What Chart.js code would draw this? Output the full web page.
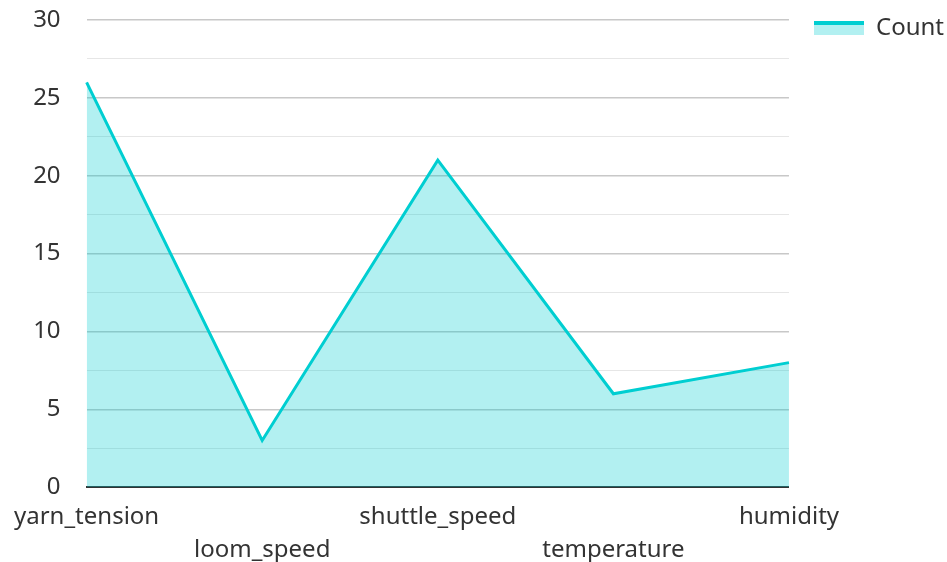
<!DOCTYPE html>
<html>
<head>
  <title>Count by parameter</title>
  <style>
    html, body { margin: 0; padding: 0; background: #fff; }
    .chart { width: 947px; height: 562px; position: relative; }
  </style>
  <script src="https://cdn.jsdelivr.net/npm/chart.js"></script>
</head>
<body>
  <div class="chart">
    <canvas id="countChart"></canvas>
  </div>
  <script>
    // chart data
    const categories = ['yarn_tension', 'loom_speed', 'shuttle_speed', 'temperature', 'humidity'];
    const countValues = [26, 3, 21, 6, 8];
    const yTicks = [0, 5, 10, 15, 20, 25, 30];

    const lineColor = '#00CED1';
    const fillColor = 'rgba(0, 206, 209, 0.3)';

    // legend swatch: light fill with a thick top line
    const swatch = document.createElement('canvas');
    swatch.width = 50;
    swatch.height = 14;
    const sctx = swatch.getContext('2d');
    sctx.fillStyle = fillColor;
    sctx.fillRect(0, 0, 50, 14);
    sctx.fillStyle = lineColor;
    sctx.fillRect(0, 0, 50, 4);

    const ctx = document.getElementById('countChart').getContext('2d');
    const countChart = new Chart(ctx, {
      type: 'line',
      data: {
        labels: categories,
        datasets: [{
          label: 'Count',
          data: countValues,
          borderColor: lineColor,
          backgroundColor: fillColor,
          borderWidth: 3,
          fill: 'origin',
          tension: 0,
          pointRadius: 0,
          pointHoverRadius: 0,
          pointStyle: swatch
        }]
      },
      options: {
        responsive: true,
        maintainAspectRatio: false,
        animation: false,
        layout: { padding: { top: -9, right: -7, bottom: -18, left: 2 } },
        plugins: {
          tooltip: { enabled: false },
          legend: {
            position: 'right',
            align: 'start',
            labels: {
              usePointStyle: true,
              pointStyleWidth: 50,
              boxHeight: 14,
              color: '#333',
              font: { family: 'Noto Sans', size: 24 },
              padding: 25
            }
          }
        },
        scales: {
          x: {
            offset: false,
            grid: { display: false, drawTicks: false },
            border: { display: true, color: '#333', width: 2 },
            ticks: {
              autoSkip: false,
              maxRotation: 0,
              minRotation: 0,
              padding: 14,
              color: '#333',
              font: { family: 'Noto Sans', size: 24, lineHeight: 1.35 },
              callback: function(value, index) {
                const name = categories[index];
                return index % 2 === 1 ? ['', name] : name;
              }
            }
          },
          y: {
            min: yTicks[0],
            max: yTicks[yTicks.length - 1],
            border: { display: false },
            afterFit: function(scale) {
              // tick padding is added to the top gap too; keep only room for the label
              scale.paddingTop = 20;
              scale.paddingBottom = 0;
            },
            grid: {
              drawTicks: false,
              color: function(c) {
                return yTicks.includes(c.tick.value) ? '#c8c8c8' : '#e6e6e6';
              },
              lineWidth: function(c) {
                return yTicks.includes(c.tick.value) ? 1.5 : 1;
              }
            },
            ticks: {
              stepSize: 2.5,
              padding: 26,
              color: '#333',
              font: { family: 'Noto Sans', size: 24 },
              callback: function(value) {
                return yTicks.includes(value) ? value : '';
              }
            }
          }
        }
      }
    });
  </script>
</body>
</html>
